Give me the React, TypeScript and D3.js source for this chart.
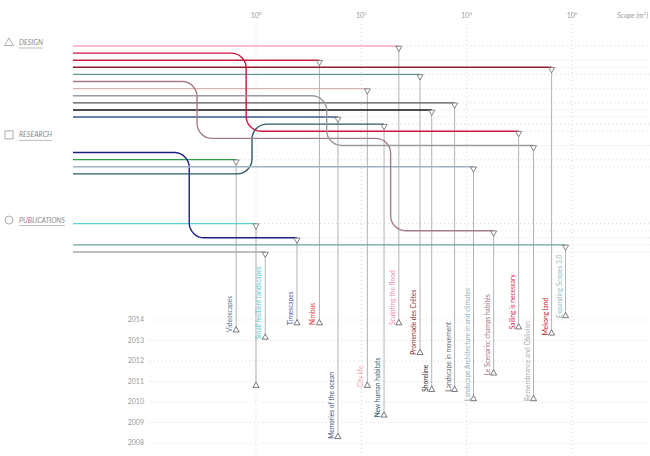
import { useEffect, useRef } from 'react'
import * as d3 from 'd3'

// projects sorted by scope
const projectNames = [
  'Videoscapes',
  '',
  'Small resilient landscapes',
  'Timescapes',
  'Nimbus',
  'Memories of the ocean',
  'City life',
  'New human habitats',
  'Sculpting the flood',
  'Promenade des Crêtes',
  'Shoreline',
  'Landscape in movement',
  'Landscape Architecture in arid climates',
  'Le Scenario: champs habités',
  'Sailing is necessary',
  'Remembrance and Oblivion',
  'Mekong land',
  'Expanding Scopes 3.0',
]

// scope in m²
const scopes = [0.42, 1, 1.5, 6, 16, 36, 130, 270, 515, 1300, 2170, 5900, 13500, 32500, 97000, 186000, 410000, 755000]

const years = [2013.5, 2010.8, 2013.15, 2013.85, 2013.85, 2008.3, 2010.8, 2009.35, 2013.85, 2012.4, 2010.6, 2010.6, 2010.15, 2011.4, 2013.65, 2010.15, 2013.35, 2014.2]

// rows each line passes through, left to right
const rowPaths = [[16], [25], [29], [15, 27], [2], [10], [6], [18, 11], [0], [4], [9], [8], [17], [5, 13, 26], [1, 12], [7, 14], [3], [28]]

// scope where the line switches rows
const bendScopes = [[], [], [], [0.054], [], [], [], [0.84], [], [], [], [], [], [0.076, 360], [0.65], [22], [], []]

const lineColors = ['#2e9b46', '#5ccfd6', '#a8a8a8', '#1b2080', '#c8203a', '#3d5590', '#d8b2b2', '#2b5965', '#f4a6bf', '#5f9c95', '#111111', '#555555', '#9fb2c4', '#a37d85', '#d0143f', '#9a9a9a', '#8e1b25', '#6aa39c']
const labelColors = ['#5a7090', '#5fcfd6', '#4fc8d0', '#5058a8', '#e04040', '#3a4a80', '#e8a6a6', '#2d5a6a', '#f48fb0', '#8a2f2a', '#222222', '#666666', '#8fb0c0', '#a07080', '#e0204a', '#aaaaaa', '#c01828', '#90c0bc']

const categories = ['DESIGN', 'RESEARCH', 'PUBLICATIONS']
const categoryRows = [0, 13, 25]
const categoryIcons = ['triangle', 'square', 'circle']

const scopeTicks = [1, 1e2, 1e4, 1e6]
const yearTicks = [2008, 2009, 2010, 2011, 2012, 2013, 2014]

const W = 650
const H = 456
const FONT = 'Lato, "Open Sans", sans-serif'

export default function App() {
  const svgRef = useRef<SVGSVGElement | null>(null)

  useEffect(() => {
    const svgElement = svgRef.current
    if (!svgElement) return
    const svg = d3.select(svgElement)
    svg.selectAll('*').remove()

    const x = d3.scaleLog().domain([1, 1e6]).range([256, 572])
    const y = d3.scaleLinear().domain([0, 29]).range([46, 252])
    const yYear = d3.scaleLinear().domain([2008, 2014]).range([443, 320])
    const lineStart = 73
    const radius = 15

    const grid = svg.append('g').attr('stroke', '#cfcfcf').attr('stroke-width', 0.8).attr('stroke-dasharray', '1,3')

    // scope grid
    grid
      .selectAll('line.v')
      .data(scopeTicks)
      .join('line')
      .attr('x1', (d) => x(d))
      .attr('x2', (d) => x(d))
      .attr('y1', 24)
      .attr('y2', H)

    // year grid
    grid
      .selectAll('line.yr')
      .data(yearTicks)
      .join('line')
      .attr('class', 'yr')
      .attr('x1', 150)
      .attr('x2', W)
      .attr('y1', (d) => yYear(d))
      .attr('y2', (d) => yYear(d))

    // row guides after each end marker
    grid
      .selectAll('line.row')
      .data(projectNames.map((_, i) => i))
      .join('line')
      .attr('class', 'row')
      .attr('x1', (i) => x(scopes[i]) + 4)
      .attr('x2', W)
      .attr('y1', (i) => y(rowPaths[i][rowPaths[i].length - 1]))
      .attr('y2', (i) => y(rowPaths[i][rowPaths[i].length - 1]))

    // tick labels
    const tickText = svg
      .selectAll('text.tick')
      .data(scopeTicks)
      .join('text')
      .attr('x', (d) => x(d))
      .attr('y', 18)
      .attr('text-anchor', 'middle')
      .attr('font-family', FONT)
      .attr('font-size', 7)
      .attr('fill', '#999')
    tickText.append('tspan').text('10')
    tickText
      .append('tspan')
      .attr('dy', -3)
      .attr('font-size', 4.5)
      .text((d) => String(Math.round(Math.log10(d))))

    const scopeLabel = svg
      .append('text')
      .attr('x', 648)
      .attr('y', 18)
      .attr('text-anchor', 'end')
      .attr('font-family', FONT)
      .attr('font-style', 'italic')
      .attr('font-size', 7)
      .attr('fill', '#999')
    scopeLabel.append('tspan').text('Scope (m')
    scopeLabel.append('tspan').attr('dy', -3).attr('font-size', 4.5).text('2')
    scopeLabel.append('tspan').attr('dy', 3).text(')')

    // year labels
    svg
      .selectAll('text.year')
      .data(yearTicks)
      .join('text')
      .attr('x', 144)
      .attr('y', (d) => yYear(d))
      .attr('dy', '0.35em')
      .attr('text-anchor', 'end')
      .attr('font-family', FONT)
      .attr('font-size', 7)
      .attr('fill', '#999')
      .text((d) => d)

    // legend
    categories.forEach((name, i) => {
      const base = y(categoryRows[i]) - 1
      const cy = base - 2.5
      const g = svg.append('g')
      const icon = categoryIcons[i]
      if (icon === 'triangle') {
        g.append('path')
          .attr('d', d3.symbol(d3.symbolTriangle, 34)())
          .attr('transform', `translate(9,${cy + 0.5})`)
          .attr('fill', 'none')
          .attr('stroke', '#999')
          .attr('stroke-width', 0.8)
      } else if (icon === 'square') {
        g.append('rect')
          .attr('x', 5)
          .attr('y', cy - 4)
          .attr('width', 8)
          .attr('height', 8)
          .attr('fill', 'none')
          .attr('stroke', '#999')
          .attr('stroke-width', 0.8)
      } else {
        g.append('circle')
          .attr('cx', 9)
          .attr('cy', cy)
          .attr('r', 4)
          .attr('fill', 'none')
          .attr('stroke', '#999')
          .attr('stroke-width', 0.8)
      }
      const t = g
        .append('text')
        .attr('x', 19)
        .attr('y', base)
        .attr('font-family', FONT)
        .attr('font-style', 'italic')
        .attr('font-size', 7)
        .attr('fill', '#888')
        .text(name)
      const len = (t.node() as SVGTextElement).getComputedTextLength()
      g.append('line')
        .attr('x1', 19)
        .attr('x2', 19 + len)
        .attr('y1', base + 3)
        .attr('y2', base + 3)
        .attr('stroke', '#aaa')
        .attr('stroke-width', 0.8)
    })

    const idx = projectNames.map((_, i) => i)

    // vertical drop lines
    svg
      .append('g')
      .selectAll('line')
      .data(idx)
      .join('line')
      .attr('x1', (i) => x(scopes[i]))
      .attr('x2', (i) => x(scopes[i]))
      .attr('y1', (i) => y(rowPaths[i][rowPaths[i].length - 1]))
      .attr('y2', (i) => yYear(years[i]))
      .attr('stroke', '#b3b3b3')
      .attr('stroke-width', 1)

    // horizontal lines with rounded bends
    const linePath = (i: number) => {
      const rows = rowPaths[i]
      const bends = bendScopes[i]
      const p = d3.path()
      p.moveTo(lineStart, y(rows[0]))
      for (let k = 0; k < bends.length; k++) {
        const bx = x(bends[k])
        const y0 = y(rows[k])
        const y1 = y(rows[k + 1])
        const r = Math.min(radius, Math.abs(y1 - y0) / 2)
        p.arcTo(bx, y0, bx, y1, r)
        p.arcTo(bx, y1, bx + 50, y1, r)
      }
      p.lineTo(x(scopes[i]), y(rows[rows.length - 1]))
      return p.toString()
    }

    svg
      .append('g')
      .selectAll('path')
      .data(idx)
      .join('path')
      .attr('d', (i) => linePath(i))
      .attr('fill', 'none')
      .attr('stroke', (i) => lineColors[i])
      .attr('stroke-width', 1.4)

    const tri = d3.symbol(d3.symbolTriangle, 16)()

    // end markers
    svg
      .append('g')
      .selectAll('path')
      .data(idx)
      .join('path')
      .attr('d', tri)
      .attr('transform', (i) => `translate(${x(scopes[i])},${y(rowPaths[i][rowPaths[i].length - 1]) + 2}) rotate(180)`)
      .attr('fill', '#fff')
      .attr('stroke', '#666')
      .attr('stroke-width', 0.8)

    // year markers
    svg
      .append('g')
      .selectAll('path')
      .data(idx)
      .join('path')
      .attr('d', tri)
      .attr('transform', (i) => `translate(${x(scopes[i])},${yYear(years[i])})`)
      .attr('fill', '#fff')
      .attr('stroke', '#555')
      .attr('stroke-width', 0.8)

    // project labels
    svg
      .append('g')
      .selectAll('text')
      .data(idx.filter((i) => projectNames[i] !== ''))
      .join('text')
      .attr('transform', (i) => `translate(${x(scopes[i]) - 4},${yYear(years[i]) + 2}) rotate(-90)`)
      .attr('font-family', FONT)
      .attr('font-size', 6.6)
      .attr('fill', (i) => labelColors[i])
      .text((i) => projectNames[i])
  }, [])

  return (
    <svg
      ref={svgRef}
      width={W}
      height={H}
      viewBox={`0 0 ${W} ${H}`}
      style={{ position: 'absolute', left: 0, top: 0, background: '#fff' }}
    />
  )
}
